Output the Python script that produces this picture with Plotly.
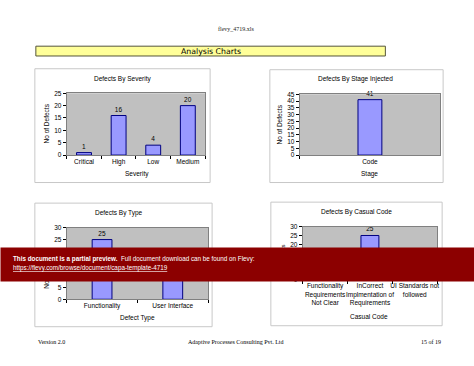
import plotly.graph_objects as go

W, H = 474, 366

# ---- data ----
sev_cats = ["Critical", "High", "Low", "Medium"]
sev_vals = [1, 16, 4, 20]
stage_cats = ["Code"]
stage_vals = [41]
type_cats = ["Functionality", "User Interface"]
type_vals = [25, 16]
cause_cats = ["Functionality<br>Requirements<br>Not Clear",
              "InCorrect<br>Implmentation of<br>Requirements",
              "UI Standards not<br>followed"]
cause_vals = [9, 25, 7]

FONT = "Liberation Sans, Arial, sans-serif"
SERIF = "Liberation Serif, Times New Roman, serif"


def xd(a, b):
    return [a / W, b / W]


def yd(top, bottom):
    return [1 - bottom / H, 1 - top / H]


def P(x, y):
    return x / W, 1 - y / H


fig = go.Figure()

charts = [
    # cats, vals, bar width, x-domain px, y-domain px, ymax
    (sev_cats, sev_vals, 0.43, (67, 206), (91, 154), 25),
    (stage_cats, stage_vals, 0.17, (301, 442), (92, 154), 45),
    (type_cats, type_vals, 0.28, (67, 209), (228, 301), 30),
    (cause_cats, cause_vals, 0.40, (304, 439), (227, 281), 30),
]

layout_axes = {}
for i, (cats, vals, bw, xdp, ydp, ymax) in enumerate(charts, start=1):
    xa = "x" if i == 1 else f"x{i}"
    ya = "y" if i == 1 else f"y{i}"
    fig.add_trace(go.Bar(
        x=cats, y=vals, xaxis=xa, yaxis=ya, width=bw,
        marker=dict(color="#9999FF", line=dict(color="#000080", width=1)),
        text=[str(v) for v in vals], textposition="outside",
        textfont=dict(family=FONT, size=6.5, color="#000"),
        cliponaxis=False, showlegend=False,
    ))
    xkey = "xaxis" if i == 1 else f"xaxis{i}"
    ykey = "yaxis" if i == 1 else f"yaxis{i}"
    layout_axes[xkey] = dict(
        domain=xd(*xdp), anchor=ya, type="category",
        range=[-0.5, len(cats) - 0.5], tickangle=0,
        showline=True, linecolor="#808080", mirror=True, linewidth=1,
        ticks="outside", ticklen=3, tickcolor="#000", tickson="boundaries",
        showgrid=False, zeroline=False, fixedrange=True,
        tickfont=dict(family=FONT, size=6.5, color="#000"),
    )
    layout_axes[ykey] = dict(
        domain=yd(*ydp), anchor=xa, range=[0, ymax], dtick=5,
        showline=True, linecolor="#808080", mirror=True, linewidth=1,
        ticks="outside", ticklen=3, tickcolor="#000",
        showgrid=False, zeroline=False, fixedrange=True,
        tickfont=dict(family=FONT, size=6.5, color="#000"),
    )

fig.update_layout(**layout_axes)

shapes = []
# chart boxes
for (x0, y0, x1, y1) in [(35, 66, 211, 182), (271, 67, 445, 182),
                         (35, 203, 213, 329), (272, 202, 444, 328)]:
    shapes.append(dict(type="rect", xref="paper", yref="paper",
                       x0=x0 / W, x1=x1 / W, y0=1 - y1 / H, y1=1 - y0 / H,
                       line=dict(color="#C8C8C8", width=1), fillcolor="rgba(0,0,0,0)",
                       layer="below"))
# yellow banner
shapes.append(dict(type="rect", xref="paper", yref="paper",
                   x0=36 / W, x1=387 / W, y0=1 - 53 / H, y1=1 - 43 / H,
                   line=dict(color="#55553A", width=1), fillcolor="#FFFF99",
                   layer="below"))

ann = []


def A(text, x, y, size=6.5, family=FONT, angle=0, xanchor="center", color="#000"):
    px, py = P(x, y)
    ann.append(dict(text=text, x=px, y=py, xref="paper", yref="paper",
                    showarrow=False, xanchor=xanchor, yanchor="middle",
                    textangle=angle, font=dict(family=family, size=size, color=color)))


A("flevy_4719.xls", 237, 25, size=6, family=SERIF, color="#222")
A("Analysis Charts", 212, 48, size=7.8, family="DejaVu Sans, sans-serif")

# chart titles
A("Defects By Severity", 123, 76)
A("Defects By Stage Injected", 357, 76)
A("Defects By Type", 120, 213)
A("Defects By Casual Code", 358, 212)
# x-axis titles
A("Severity", 138, 173)
A("Stage", 371, 173)
A("Defect Type", 138, 320)
A("Casual Code", 371, 319)
# y-axis titles
A("No of Defects", 47, 122, angle=-90)
A("No of Defects", 281, 123, angle=-90)
A("No of Defects", 47, 270, angle=-90)
A("No of Defects", 284, 264, size=6, angle=-90)
# footer
A("Version 2.0", 36, 345, size=6, family=SERIF, xanchor="left")
A("Adaptive Processes Consulting Pvt. Ltd", 237, 345, size=6, family=SERIF)
A("15 of 19", 445, 345, size=6, family=SERIF, xanchor="right")

# preview banner (annotation so it covers earlier annotations)
bx, by = P(0, 247.5)
ann.append(dict(text=" ", x=bx, y=by, xref="paper", yref="paper", showarrow=False,
                xanchor="left", yanchor="top", width=W, height=33, borderpad=0,
                bgcolor="#8C0000", font=dict(size=6)))
A("<b>This document is a partial preview.</b>  Full document download can be found on Flevy:",
  11, 260, size=6.3, xanchor="left", color="#FFFFFF")
A("<u>https://flevy.com/browse/document/capa-template-4719</u>",
  11, 269, size=6.3, xanchor="left", color="#FFFFFF")

fig.update_layout(
    width=W, height=H, margin=dict(l=0, r=0, t=0, b=0),
    paper_bgcolor="#FFFFFF", plot_bgcolor="#C0C0C0",
    shapes=shapes, annotations=ann, bargap=0.5,
    font=dict(family=FONT, size=6.5, color="#000"),
)

fig.write_html("out.html", config={"displayModeBar": False},
               post_script="document.body.style.margin='0';document.body.style.padding='0';")
